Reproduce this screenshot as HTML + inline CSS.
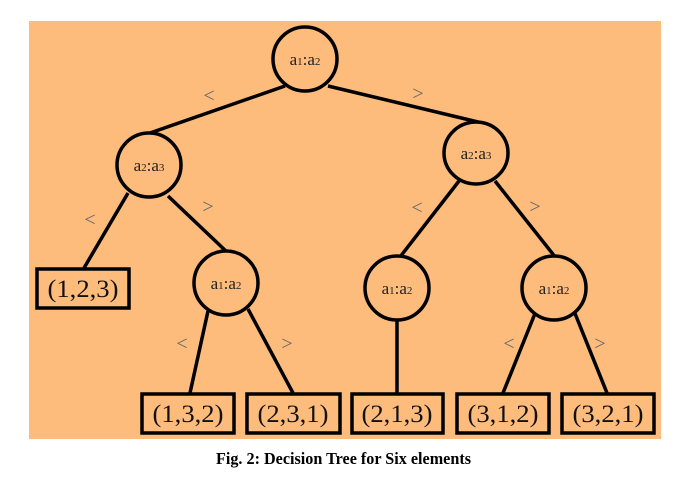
<!DOCTYPE html>
<html><head><meta charset="utf-8"><style>
html,body{margin:0;padding:0;background:#fff;}
svg{display:block;font-family:"Liberation Serif",serif;}
</style></head><body>
<svg width="686" height="481" viewBox="0 0 686 481" xmlns="http://www.w3.org/2000/svg">
<rect x="29" y="21" width="632" height="418" fill="#FDBB7C"/>
<g stroke="#000" stroke-width="3.5" fill="none">
<line x1="285" y1="86" x2="150" y2="133"/>
<line x1="328" y1="86" x2="478" y2="122"/>
<line x1="128" y1="193" x2="84" y2="268"/>
<line x1="168" y1="196" x2="228" y2="253"/>
<line x1="459" y1="181" x2="400" y2="257"/>
<line x1="495" y1="181" x2="556" y2="258"/>
<line x1="208" y1="311" x2="190" y2="393"/>
<line x1="248" y1="309" x2="293" y2="393"/>
<line x1="397" y1="320" x2="397" y2="393"/>
<line x1="536" y1="311" x2="503" y2="393"/>
<line x1="574" y1="311" x2="607" y2="393"/>
<g fill="#FDBB7C">
<ellipse cx="305" cy="59" rx="32" ry="32"/>
<ellipse cx="149" cy="165" rx="32" ry="32"/>
<ellipse cx="476" cy="153" rx="32" ry="31"/>
<ellipse cx="226" cy="283" rx="32" ry="32"/>
<ellipse cx="397" cy="288" rx="32" ry="32"/>
<ellipse cx="554" cy="288" rx="32" ry="32"/>
<rect x="37" y="269" width="92" height="39"/>
<rect x="142" y="394" width="92" height="39"/>
<rect x="247" y="394" width="93" height="39"/>
<rect x="352" y="394" width="91" height="39"/>
<rect x="457" y="394" width="92" height="39"/>
<rect x="562" y="394" width="92" height="39"/>
</g>
</g>
<g font-size="17" fill="#222" text-anchor="middle">
<text x="305" y="65">a<tspan font-size="11">1</tspan>:a<tspan font-size="11">2</tspan></text>
<text x="149" y="171">a<tspan font-size="11">2</tspan>:a<tspan font-size="11">3</tspan></text>
<text x="476" y="159">a<tspan font-size="11">2</tspan>:a<tspan font-size="11">3</tspan></text>
<text x="226" y="289">a<tspan font-size="11">1</tspan>:a<tspan font-size="11">2</tspan></text>
<text x="397" y="294">a<tspan font-size="11">1</tspan>:a<tspan font-size="11">2</tspan></text>
<text x="554" y="294">a<tspan font-size="11">1</tspan>:a<tspan font-size="11">2</tspan></text>
</g>
<g font-size="25" fill="#111" text-anchor="middle" lengthAdjust="spacingAndGlyphs">
<text x="83" y="297" textLength="71" lengthAdjust="spacingAndGlyphs">(1,2,3)</text>
<text x="188" y="422" textLength="71" lengthAdjust="spacingAndGlyphs">(1,3,2)</text>
<text x="293" y="422" textLength="71" lengthAdjust="spacingAndGlyphs">(2,3,1)</text>
<text x="397" y="422" textLength="71" lengthAdjust="spacingAndGlyphs">(2,1,3)</text>
<text x="503" y="422" textLength="71" lengthAdjust="spacingAndGlyphs">(3,1,2)</text>
<text x="608" y="422" textLength="71" lengthAdjust="spacingAndGlyphs">(3,2,1)</text>
</g>
<g font-size="20" fill="#666" text-anchor="middle">
<text x="209" y="102">&lt;</text>
<text x="418" y="100">&gt;</text>
<text x="90" y="226">&lt;</text>
<text x="208" y="213">&gt;</text>
<text x="417" y="214">&lt;</text>
<text x="535" y="213">&gt;</text>
<text x="182" y="350">&lt;</text>
<text x="287" y="350">&gt;</text>
<text x="509" y="350">&lt;</text>
<text x="600" y="350">&gt;</text>
</g>
<text x="216" y="464" font-size="17" font-weight="bold" textLength="255" lengthAdjust="spacingAndGlyphs">Fig. 2: Decision Tree for Six elements</text>
</svg>
</body></html>
